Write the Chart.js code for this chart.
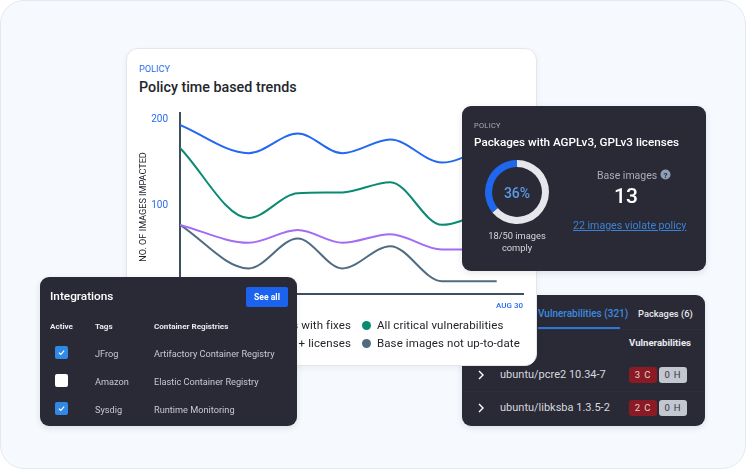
<!DOCTYPE html>
<html>
<head>
<meta charset="utf-8">
<title>Policy time based trends</title>
<script src="https://cdn.jsdelivr.net/npm/chart.js@4/dist/chart.umd.min.js"></script>
<style>
  html, body { margin: 0; padding: 0; background: #fff; }
  body { width: 746px; height: 469px; position: relative; overflow: hidden; font-family: Roboto, sans-serif; }
  .abs, .card, .card * { position: absolute; white-space: nowrap; box-sizing: border-box; }
  #frame { position: absolute; left: 0; top: 0; width: 746px; height: 469px; box-sizing: border-box; background: #f6f9fd; border: 1px solid #e4e9f0; border-radius: 24px; }
  .card { border-radius: 9px; }
  .light { left: 126px; top: 48px; width: 411px; height: 318px; background: #fff; border: 1px solid #e3e7ec; box-shadow: 0 2px 6px rgba(40,50,70,.06); border-radius: 12px; }
  .dark { background: #2a2a36; color: #fff; box-shadow: 0 2px 6px rgba(40,50,70,.12); }
  #trendChart { position: absolute; left: 126px; top: 100px; }
  #complyChart { position: absolute; }
  .t { line-height: 14px; }
  .row-text { color: #c6c9d0; font-size: 9.2px; }
  .head { font-weight: 700; font-size: 8.1px; color: #e8e9ee; }
  .check { left: 55px; width: 13px; height: 13px; border-radius: 2px; background: #3189e6; }
  .check.off { background: #fff; }
  .check svg { left: 3px; top: 3px; }
  .line { height: 1px; background: #2f2f3b; }
  .badge { height: 16px; width: 28px; border-radius: 3px; font-size: 9.5px; letter-spacing: .8px; line-height: 16px; text-align: center; }
  .legend-dot { width: 9px; height: 9px; border-radius: 50%; }
  .legend-text { font-size: 11.5px; color: #22262c; line-height: 14px; letter-spacing: .1px; }
</style>
</head>
<body>
<div id="frame"></div>

<div class="card dark" style="left:462px;top:295px;width:243px;height:131px"></div>
<div class="abs line" style="left:462px;top:329px;width:243px"></div>
<div class="abs line" style="left:462px;top:391px;width:243px"></div>
<div class="abs t" style="left:538px;top:307px;font-size:10px;font-weight:500;color:#3a8ae0">Vulnerabilities (321)</div>
<div class="abs" style="left:538px;top:327px;width:82px;height:2px;background:#2b78d6"></div>
<div class="abs t" style="left:638px;top:307px;font-size:9.3px;font-weight:500;color:#e8e9ee">Packages (6)</div>
<div class="abs t" style="left:629px;top:336px;font-size:9.6px;font-weight:700;color:#e8e9ee">Vulnerabilities</div>
<div id="packages"></div>

<div class="card light"></div>
<div class="abs t" style="left:139px;top:62px;font-size:9px;color:#2a6cf0;letter-spacing:.1px">POLICY</div>
<div class="abs" style="left:139px;top:78px;font-size:14.3px;line-height:18px;font-weight:500;color:#22262c">Policy time based trends</div>
<canvas id="trendChart" width="411" height="212"></canvas>
<div class="abs" style="left:143px;top:207px;width:0;height:0"><div class="abs" style="left:-60px;top:-6px;width:120px;height:12px;line-height:12px;text-align:center;font-size:9.1px;color:#22262c;transform:rotate(-90deg)">NO. OF IMAGES IMPACTED</div></div>
<div id="legend"></div>

<div class="card dark" style="left:462px;top:106px;width:244px;height:165px"></div>
<div class="abs t" style="left:474px;top:119px;font-size:7.4px;color:#a9adb8;letter-spacing:.3px">POLICY</div>
<div class="abs" style="left:474px;top:134px;font-size:11.7px;line-height:16px;font-weight:500;color:#fff">Packages with AGPLv3, GPLv3 licenses</div>
<canvas id="complyChart" width="70" height="70" style="left:482px;top:157px"></canvas>
<div class="abs" style="left:482px;top:184px;width:70px;text-align:center;font-size:14px;line-height:18px;font-weight:500;color:#5a9be6">36%</div>
<div class="abs" style="left:472px;top:230px;width:90px;text-align:center;font-size:9.3px;line-height:11.5px;color:#d4d6dc">18/50 images<br>comply</div>
<div class="abs t" style="left:597px;top:169px;font-size:10.5px;color:#a9adb8">Base images</div>
<svg class="abs" style="left:660px;top:169px" width="11" height="11" viewBox="0 0 11 11"><circle cx="5.5" cy="5.5" r="5" fill="#8fa0b5"/><text x="5.5" y="8.5" font-size="8" font-weight="700" fill="#2a2a36" text-anchor="middle" font-family="Roboto">?</text></svg>
<div class="abs" style="left:585px;top:184px;width:82px;text-align:center;font-size:21px;line-height:24px;font-weight:500;color:#fff">13</div>
<div class="abs t" style="left:573px;top:219px;font-size:10.6px;color:#3b82d6;text-decoration:underline">22 images violate policy</div>

<div class="card dark" style="left:40px;top:277px;width:257px;height:149px"></div>
<div class="abs" style="left:50px;top:288px;font-size:11.8px;line-height:16px;font-weight:500;color:#fff">Integrations</div>
<div class="abs" style="left:246px;top:287px;width:42px;height:20px;border-radius:2px;background:#1b62ee;color:#fff;font-size:8.6px;font-weight:700;line-height:20px;text-align:center">See all</div>
<div class="abs t head" style="left:50px;top:319px">Active</div>
<div class="abs t head" style="left:95px;top:319px">Tags</div>
<div class="abs t head" style="left:154px;top:319px">Container Registries</div>
<div id="registries"></div>

<script>
// trend chart data, days along the period and number of images per policy
const days = [0, 6, 10.3, 14.2, 18.4, 22.9, 27.7];
const withFixes = [194, 161, 184, 161, 177, 150, 175];
const criticalVulns = [167, 85, 114, 115, 127, 77, 100];
const licenses = [77, 56, 71, 56, 66, 48, 48];
const notUpToDate = [77, 26, 61, 26, 52, 11, 11];
const yTicks = [100, 200];

const seriesNames = ['Images with fixes', 'AGPLv3, GPLv3 + licenses', 'All critical vulnerabilities', 'Base images not up-to-date'];
const seriesColors = ['#2268f0', '#0b8a72', '#a26cf6', '#4f6b82'];

// donut
const compliance = [32, 18];

// tables
const registryTags = ['JFrog', 'Amazon', 'Sysdig'];
const registryNames = ['Artifactory Container Registry', 'Elastic Container Registry', 'Runtime Monitoring'];
const registryActive = [true, false, true];
const packageNames = ['ubuntu/pcre2 10.34-7', 'ubuntu/libksba 1.3.5-2'];
const packageCritical = [3, 2];
const packageHigh = [0, 0];

function toPoints(values) {
  return values.map((v, i) => ({ x: days[i], y: v }));
}

function lineDataset(label, values, color) {
  return {
    label: label,
    data: toPoints(values),
    borderColor: color,
    borderWidth: 2,
    pointRadius: 0,
    cubicInterpolationMode: 'monotone'
  };
}

new Chart(document.getElementById('trendChart'), {
  type: 'line',
  data: {
    datasets: [
      lineDataset(seriesNames[0], withFixes, seriesColors[0]),
      lineDataset(seriesNames[2], criticalVulns, seriesColors[1]),
      lineDataset(seriesNames[1], licenses, seriesColors[2]),
      lineDataset(seriesNames[3], notUpToDate, seriesColors[3])
    ]
  },
  options: {
    responsive: false,
    animation: false,
    layout: { padding: { left: 13, right: 14, top: 13, bottom: 0 } },
    plugins: { legend: { display: false }, tooltip: { enabled: false } },
    scales: {
      x: {
        type: 'linear',
        min: 0,
        max: 30,
        grid: { display: false },
        border: { color: '#3d5060', width: 2 },
        afterBuildTicks: axis => { axis.ticks = [{ value: 30 }]; },
        afterFit: axis => { axis.height = 18; },
        ticks: {
          align: 'end',
          maxRotation: 0,
          padding: -1,
          color: '#2a6cf0',
          font: { family: 'Roboto', size: 8, weight: '500' },
          callback: () => 'AUG 30'
        }
      },
      y: {
        min: -4,
        max: 208,
        grid: { display: false },
        border: { color: '#3d5060', width: 2 },
        afterBuildTicks: axis => { axis.ticks = yTicks.map(v => ({ value: v })); },
        afterFit: axis => { axis.width = 41; },
        ticks: {
          padding: 4,
          color: '#2a6cf0',
          font: { family: 'Roboto', size: 10 }
        }
      }
    }
  }
});

new Chart(document.getElementById('complyChart'), {
  type: 'doughnut',
  data: {
    datasets: [{
      data: compliance,
      backgroundColor: ['#e6e7ec', '#1f67ee'],
      borderWidth: 0
    }]
  },
  options: {
    responsive: false,
    animation: false,
    cutout: '78%',
    layout: { padding: 3 },
    plugins: { legend: { display: false }, tooltip: { enabled: false } }
  }
});

// legend below the trend chart, first column sits partly under the integrations card
const legendEl = document.getElementById('legend');
const legendRows = [318, 336];
seriesNames.forEach((name, i) => {
  const top = legendRows[i % 2];
  const secondCol = i >= 2;
  const dot = document.createElement('div');
  dot.className = 'abs legend-dot';
  dot.style.cssText = 'left:' + (secondCol ? 362 : 170) + 'px;top:' + (top + 3) + 'px;background:' + (secondCol ? seriesColors[i === 2 ? 1 : 3] : seriesColors[i === 0 ? 0 : 2]);
  legendEl.appendChild(dot);
  const text = document.createElement('div');
  text.className = 'abs legend-text';
  text.textContent = name;
  text.style.cssText = secondCol ? 'left:377px;top:' + top + 'px' : 'right:' + (746 - 351) + 'px;top:' + top + 'px';
  legendEl.appendChild(text);
});

// integrations rows
const regEl = document.getElementById('registries');
registryTags.forEach((tag, i) => {
  const y = 346 + i * 28;
  regEl.insertAdjacentHTML('beforeend',
    '<div class="abs check' + (registryActive[i] ? '' : ' off') + '" style="top:' + y + 'px">' +
    (registryActive[i] ? '<svg class="abs" width="7" height="7" viewBox="0 0 7 7"><path d="M0.8 3.6 L2.8 5.5 L6.2 1.6" fill="none" stroke="#fff" stroke-width="1.2"/></svg>' : '') +
    '</div>' +
    '<div class="abs t row-text" style="left:95px;top:' + (y + 1) + 'px">' + tag + '</div>' +
    '<div class="abs t row-text" style="left:154px;top:' + (y + 1) + 'px">' + registryNames[i] + '</div>');
});

// package rows
const pkgEl = document.getElementById('packages');
packageNames.forEach((name, i) => {
  const y = 367 + i * 33;
  pkgEl.insertAdjacentHTML('beforeend',
    '<svg class="abs" style="left:477px;top:' + (y + 3) + 'px" width="8" height="10" viewBox="0 0 8 10"><path d="M2 1 L6 5 L2 9" fill="none" stroke="#fff" stroke-width="1.4"/></svg>' +
    '<div class="abs t" style="left:500px;top:' + (y + 1) + 'px;font-size:11px;color:#d6d8de">' + name + '</div>' +
    '<div class="abs badge" style="left:629px;top:' + y + 'px;background:#8a1a24;color:#e8d0d2">' + packageCritical[i] + ' C</div>' +
    '<div class="abs badge" style="left:659px;top:' + y + 'px;background:#c3c7d0;color:#33353f">' + packageHigh[i] + ' H</div>');
});
</script>
</body>
</html>
